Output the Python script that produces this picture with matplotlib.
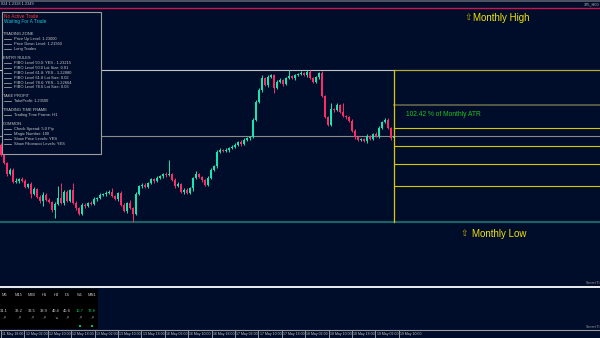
import matplotlib.pyplot as plt
from matplotlib.patches import Rectangle

plt.rcParams['font.family'] = ['Liberation Sans', 'DejaVu Sans']

bg = "#000d2a"
bull = "#17e6b3"
bear = "#ff2a68"
gold = "#d8c800"

# H1 bars, prices
opens = [1.2410, 1.2390, 1.2374, 1.2352, 1.2360, 1.2336, 1.2338, 1.2342, 1.2338, 1.2326,
         1.2332, 1.2312, 1.2322, 1.2306, 1.2298, 1.2310, 1.2300, 1.2296, 1.2280, 1.2292,
         1.2304, 1.2294, 1.2316, 1.2298, 1.2320, 1.2294, 1.2284, 1.2272, 1.2290, 1.2288,
         1.2294, 1.2292, 1.2302, 1.2304, 1.2310, 1.2312, 1.2314, 1.2316, 1.2308, 1.2302,
         1.2314, 1.2290, 1.2278, 1.2294, 1.2284, 1.2272, 1.2312, 1.2328, 1.2330, 1.2326,
         1.2334, 1.2342, 1.2338, 1.2344, 1.2348, 1.2352, 1.2350, 1.2352, 1.2340, 1.2328,
         1.2332, 1.2316, 1.2320, 1.2314, 1.2324, 1.2344, 1.2352, 1.2346, 1.2340, 1.2330,
         1.2344, 1.2360, 1.2368, 1.2396, 1.2400, 1.2398, 1.2400, 1.2404, 1.2406, 1.2410,
         1.2416, 1.2412, 1.2420, 1.2424, 1.2426, 1.2460, 1.2496, 1.2520, 1.2544, 1.2530,
         1.2546, 1.2550, 1.2524, 1.2536, 1.2540, 1.2532, 1.2544, 1.2548, 1.2544, 1.2550,
         1.2552, 1.2554, 1.2550, 1.2556, 1.2544, 1.2536, 1.2546, 1.2554, 1.2508, 1.2466,
         1.2450, 1.2482, 1.2480, 1.2490, 1.2476, 1.2468, 1.2466, 1.2458, 1.2438, 1.2426,
         1.2420, 1.2422, 1.2418, 1.2428, 1.2422, 1.2432, 1.2428, 1.2444, 1.2456, 1.2460,
         1.2444, 1.2424]
closes = [1.2390, 1.2374, 1.2352, 1.2360, 1.2336, 1.2338, 1.2342, 1.2338, 1.2326, 1.2332,
          1.2312, 1.2322, 1.2306, 1.2298, 1.2310, 1.2300, 1.2296, 1.2280, 1.2292, 1.2304,
          1.2294, 1.2316, 1.2298, 1.2320, 1.2294, 1.2284, 1.2272, 1.2290, 1.2288, 1.2294,
          1.2292, 1.2302, 1.2304, 1.2310, 1.2312, 1.2314, 1.2316, 1.2308, 1.2302, 1.2314,
          1.2290, 1.2278, 1.2294, 1.2284, 1.2272, 1.2312, 1.2328, 1.2330, 1.2326, 1.2334,
          1.2342, 1.2338, 1.2344, 1.2348, 1.2352, 1.2350, 1.2352, 1.2340, 1.2328, 1.2332,
          1.2316, 1.2320, 1.2314, 1.2324, 1.2344, 1.2352, 1.2346, 1.2340, 1.2330, 1.2344,
          1.2360, 1.2368, 1.2396, 1.2400, 1.2398, 1.2400, 1.2404, 1.2406, 1.2410, 1.2416,
          1.2412, 1.2420, 1.2424, 1.2426, 1.2460, 1.2496, 1.2520, 1.2544, 1.2530, 1.2546,
          1.2550, 1.2524, 1.2536, 1.2540, 1.2532, 1.2544, 1.2548, 1.2544, 1.2550, 1.2552,
          1.2554, 1.2550, 1.2556, 1.2544, 1.2536, 1.2546, 1.2554, 1.2508, 1.2466, 1.2450,
          1.2482, 1.2480, 1.2490, 1.2476, 1.2468, 1.2466, 1.2458, 1.2438, 1.2426, 1.2420,
          1.2422, 1.2418, 1.2428, 1.2422, 1.2432, 1.2428, 1.2444, 1.2456, 1.2460, 1.2444,
          1.2424, 1.2428]
# wick lengths above / below the body, in pips
upper_wick = [4, 3, 2, 4, 3, 5, 2, 4, 3, 2,
              3, 4, 2, 5, 6, 3, 4, 2, 3, 24,
              30, 3, 4, 2, 14, 3, 2, 4, 3, 2,
              3, 4, 2, 3, 2, 3, 4, 8, 3, 2,
              4, 3, 2, 5, 2, 3, 2, 3, 4, 2,
              3, 2, 4, 3, 2, 3, 28, 2, 3, 4,
              2, 3, 4, 2, 3, 5, 2, 3, 2, 4,
              3, 2, 4, 3, 2, 3, 2, 4, 3, 2,
              3, 4, 2, 3, 5, 4, 3, 6, 2, 4,
              3, 2, 4, 3, 2, 3, 12, 2, 3, 2,
              3, 2, 4, 3, 2, 3, 2, 4, 3, 2,
              12, 3, 4, 2, 18, 3, 2, 4, 3, 2,
              3, 2, 4, 3, 2, 3, 4, 2, 3, 4,
              2, 3]
lower_wick = [2, 3, 4, 2, 3, 2, 4, 3, 2, 3,
              8, 3, 2, 4, 10, 2, 3, 4, 16, 3,
              2, 4, 3, 2, 3, 4, 2, 3, 4, 2,
              3, 2, 4, 3, 2, 4, 3, 2, 3, 4,
              3, 2, 4, 3, 16, 2, 3, 4, 2, 3,
              2, 4, 3, 2, 3, 4, 2, 3, 4, 2,
              3, 4, 2, 3, 6, 2, 3, 4, 2, 3,
              2, 3, 4, 2, 3, 2, 4, 3, 2, 3,
              4, 2, 3, 4, 3, 2, 3, 4, 2, 3,
              2, 10, 3, 2, 4, 3, 2, 3, 4, 2,
              3, 2, 4, 3, 2, 3, 4, 2, 3, 2,
              3, 4, 2, 3, 2, 4, 3, 2, 4, 3,
              2, 3, 4, 2, 3, 2, 4, 3, 2, 3,
              4, 2]

month_high = 1.2560
month_low = 1.2256
price_now = 1.2428
fibo_dim = 1.2490
fibo_levels = [1.2444, 1.2408, 1.2372, 1.2328]

time_labels = ["11 May 18:00", "12 May 02:00", "12 May 10:00", "12 May 18:00", "13 May 02:00",
               "13 May 10:00", "13 May 18:00", "16 May 02:00", "16 May 10:00", "16 May 18:00",
               "17 May 02:00", "17 May 10:00", "17 May 18:00", "18 May 02:00", "18 May 10:00",
               "18 May 18:00", "19 May 02:00", "19 May 10:00"]

tf_names = ["M5", "M15", "M30", "H1", "H4", "D1", "W1", "MN1"]
tf_values = ["31.1", "33.2", "33.5", "39.9", "40.4", "46.6", "16.7", "78.8"]
tf_arrows = ["↗", "↗", "↗", "↗", "↘", "↗", "↗", "↗"]

panel_lines = [
    ("TRADING ZONE", None),
    ("Price Up Level: 1.23000", 1),
    ("Price Down Level: 1.21950", 1),
    ("Long Trades", 1),
    ("ENTRY RULES", None),
    ("FIBO Level 50.0: YES - 1.23215", 1),
    ("FIBO Level 50.0 Lot Size: 0.01", 1),
    ("FIBO Level 61.8: YES - 1.22880", 1),
    ("FIBO Level 61.8 Lot Size: 0.02", 1),
    ("FIBO Level 78.6: YES - 1.22664", 1),
    ("FIBO Level 78.6 Lot Size: 0.03", 1),
    ("TAKE PROFIT", None),
    ("TakeProfit: 1.23500", 1),
    ("TRADING TIME FRAME", None),
    ("Trading Time Frame: H1", 1),
    ("COMMON", None),
    ("Check Spread: 5.0 Pip", 1),
    ("Magic Number: 100", 1),
    ("Show Price Levels: YES", 1),
    ("Show Fibonacci Levels: YES", 1),
]
panel_y = [34, 39, 44, 49, 58, 63, 68, 73, 78, 83, 87, 96, 101, 110, 115, 124, 129, 134, 139, 144]

fig = plt.figure(figsize=(6, 3.38), dpi=100, facecolor=bg)

# main chart window (pixel rows 7..287)
ax = fig.add_axes([0, 51 / 338, 1, 280 / 338])
ax.set_facecolor(bg)
ax.set_xlim(-1 / 3, 600 / 3 - 1 / 3)
ax.set_ylim(1.2126, 1.2686)
ax.axis("off")

n = len(closes)
for i in range(n):
    o, c = opens[i], closes[i]
    col = bull if c >= o else bear
    top = max(o, c) + upper_wick[i] * 0.0001
    bot = min(o, c) - lower_wick[i] * 0.0001
    ax.vlines(i, bot, top, color=col, lw=0.7, zorder=3)
    h = abs(c - o) if abs(c - o) > 0 else 0.00008
    ax.bar(i, h, bottom=min(o, c), width=0.74, color=col, lw=0, zorder=3)

last = n - 1
ax.axhline(month_high, color="#c4c4c4", lw=0.8, zorder=2)
ax.axhline(price_now, color="#8a8a8a", lw=0.8, zorder=2)
ax.axhline(month_low, color="#1d6066", lw=1.6, zorder=2)
ax.plot([last, 200], [month_high, month_high], color="#b8aa30", lw=0.8, zorder=2)
ax.plot([last, 200], [fibo_dim, fibo_dim], color="#5e5e48", lw=1.3, zorder=2)
for lv in fibo_levels:
    ax.plot([last, 200], [lv, lv], color=gold, lw=0.8, zorder=2)
ax.plot([last, last], [month_low, month_high], color=gold, lw=0.9, zorder=4)

ax.text(135, 1.2470, "102.42 % of Monthly ATR", color="#1fc21f", fontsize=4.8, va="center")

# overlay in pixel units
ov = fig.add_axes([0, 0, 1, 1], zorder=5)
ov.set_xlim(0, 600)
ov.set_ylim(338, 0)
ov.axis("off")
ov.patch.set_alpha(0)

ov.plot([0, 600], [0.6, 0.6], color="#5c616d", lw=1.2)
ov.text(1, 4, "824 1.2328 1.2349", color="#c0c0c0", fontsize=2.8, va="center")
ov.text(599, 4, "375_H00", color="#c0c0c0", fontsize=2.8, va="center", ha="right")
ov.plot([0, 600], [8, 8], color="#c8174e", lw=1.0)

ov.text(464, 18, "⇧", color="#c8a000", fontsize=6.5, va="center", ha="left", family=["DejaVu Sans"])
ov.text(473, 18, "Monthly High", color="#f2e400", fontsize=7, va="center")
ov.text(460, 234, "⇧", color="#c8a000", fontsize=6.5, va="center", ha="left", family=["DejaVu Sans"])
ov.text(472, 234, "Monthly Low", color="#f2e400", fontsize=7, va="center")

# info panel
ov.add_patch(Rectangle((1.5, 12), 99.5, 142, facecolor=bg, edgecolor="#9c9c9c", lw=0.8))
ov.text(4, 16, "No Active Trade", color="#ff3b30", fontsize=3.4, va="center")
ov.text(4, 22, "Waiting For A Trade", color="#19c8d8", fontsize=3.4, va="center")
for (txt, item), y in zip(panel_lines, panel_y):
    if item:
        ov.plot([4, 11], [y, y], color="#bcbcbc", lw=0.5)
        ov.text(14, y, txt, color="#c8c8c8", fontsize=2.9, va="center")
    else:
        ov.text(3, y, txt, color="#c8c8c8", fontsize=2.9, va="center")

# sub-window
ov.plot([0, 600], [287, 287], color="white", lw=1.3)
ov.text(599, 283, "Smart Ti", color="#a0a0a0", fontsize=2.6, va="center", ha="right")
ov.text(599, 327, "Smart Ti", color="#a0a0a0", fontsize=2.6, va="center", ha="right")
ov.add_patch(Rectangle((0, 289), 98, 40, facecolor="black", lw=0))
tf_x = [4, 19, 32, 44, 56, 67, 80, 92]
for k in range(len(tf_names)):
    vc = "#00d070" if k >= 6 else "#d0d0d0"
    ov.text(tf_x[k], 295, tf_names[k], color="#c8c8c8", fontsize=2.9, ha="center", va="center")
    ov.text(tf_x[k], 311, tf_values[k], color=vc, fontsize=2.9, ha="center", va="center")
    ov.text(tf_x[k], 318, tf_arrows[k], color="#d0d0d0", fontsize=2.6, ha="center", va="center",
            family=["DejaVu Sans"])
for k in (6, 7):
    ov.add_patch(Rectangle((tf_x[k] - 0.8, 325), 1.6, 1.6, facecolor="#00c060", lw=0))

# time axis
ov.plot([0, 600], [330, 330], color="#9a9a9a", lw=0.8)
for k, lab in enumerate(time_labels):
    bx = k * 7.8
    ax.text(bx + 0.4, -0.168, lab, transform=ax.get_xaxis_transform(), color="#c8c8c8",
            fontsize=2.5, va="center", ha="left", clip_on=False)
    ax.plot([bx, bx], [-0.155, -0.182], transform=ax.get_xaxis_transform(), color="#c8c8c8",
            lw=0.5, clip_on=False)

fig.savefig("out.png", dpi=100, facecolor=bg)
